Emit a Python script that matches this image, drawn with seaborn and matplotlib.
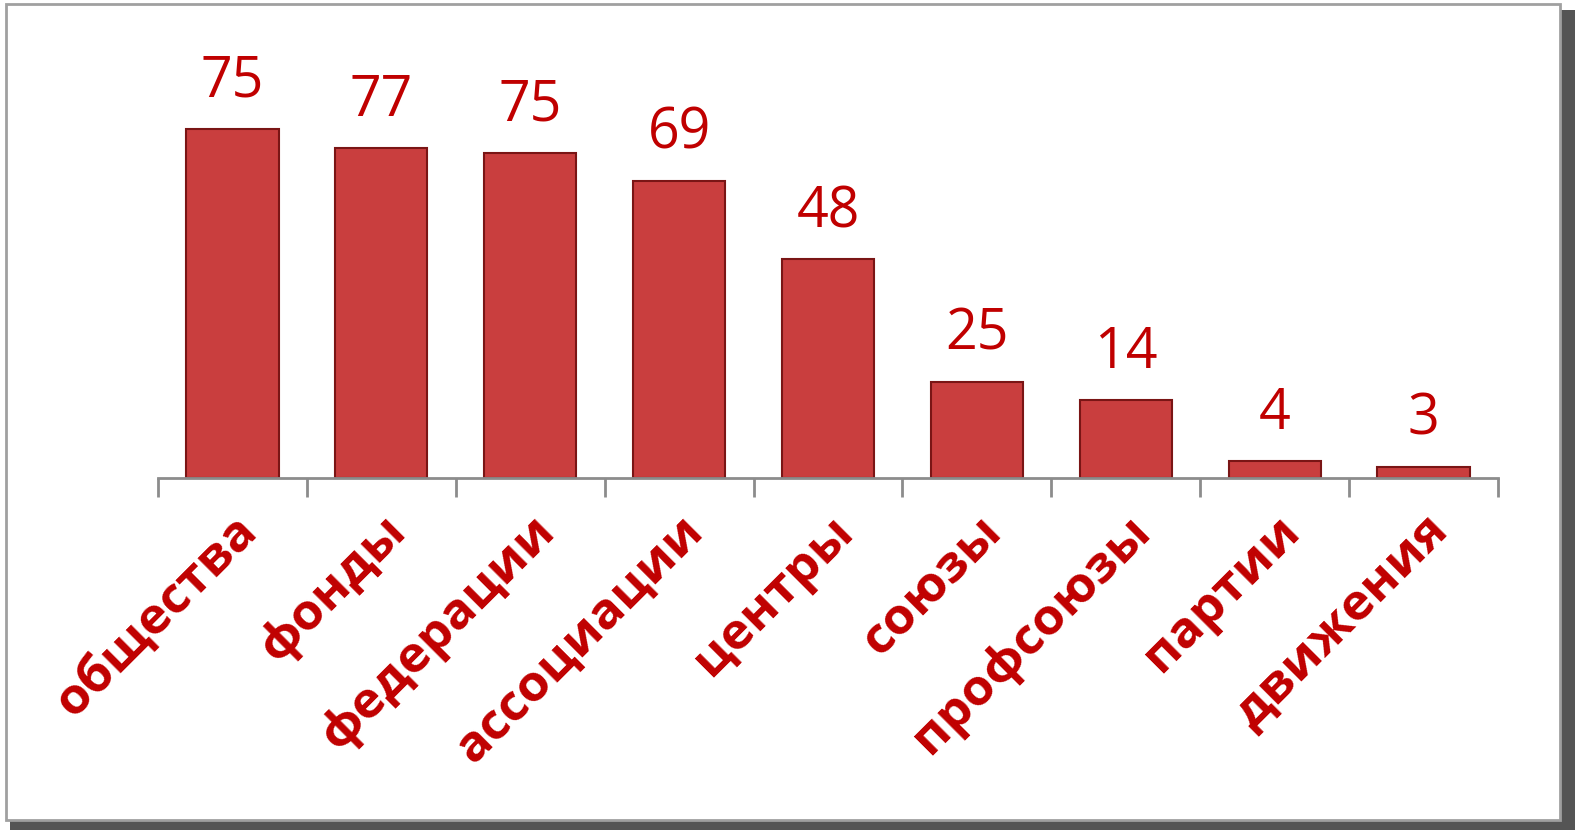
import numpy as np
import pandas as pd
import seaborn as sns
import matplotlib.pyplot as plt
from matplotlib.patches import Rectangle

categories = ['общества', 'фонды', 'федерации', 'ассоциации', 'центры',
              'союзы', 'профсоюзы', 'партии', 'движения']
# подписи над столбцами (как на исходном слайде)
labels = [75, 77, 75, 69, 48, 25, 14, 4, 3]
# высоты столбцов (не совпадают с подписями)
heights = [75, 70.9, 69.8, 63.8, 46.9, 20.6, 16.7, 3.6, 2.4]

RED = '#C00000'


def draw_frame(fig):
    # тень и рамка вокруг слайда
    fig.patches.append(Rectangle((10 / 1580, 0), 1565 / 1580, 820 / 830,
                                 transform=fig.transFigure, facecolor='#555555',
                                 edgecolor='none', zorder=0))
    fig.patches.append(Rectangle((6 / 1580, 10 / 830), 1554 / 1580, 816 / 830,
                                 transform=fig.transFigure, facecolor='white',
                                 edgecolor='#A0A0A0', linewidth=2, zorder=1))


def main():
    data = pd.DataFrame({'category': categories, 'height': heights, 'label': labels})

    sns.set_style('white')
    plt.rcParams['font.family'] = ['Open Sans', 'DejaVu Sans']

    fig = plt.figure(figsize=(15.8, 8.3), dpi=100)
    draw_frame(fig)
    ax = fig.add_axes([158 / 1580, 352 / 830, 1340 / 1580, 438 / 830])
    ax.set_zorder(2)
    ax.patch.set_alpha(0)

    sns.barplot(data=data, x='category', y='height', color='#C93E3E',
                width=0.62, edgecolor='#7A1515', linewidth=1.5, saturation=1, ax=ax)

    for i, row in data.iterrows():
        ax.annotate(str(row['label']), (i, row['height']), xytext=(0, 13),
                    textcoords='offset points', ha='center', va='bottom',
                    fontsize=40, color=RED)

    ax.set_xlim(-0.5, len(categories) - 0.5)
    ax.set_ylim(0, 94)
    ax.set_xlabel('')
    ax.set_ylabel('')
    ax.set_yticks([])
    for side in ['left', 'top', 'right']:
        ax.spines[side].set_visible(False)
    ax.spines['bottom'].set_color('#8C8C8C')
    ax.spines['bottom'].set_linewidth(2)

    ax.set_xticks(np.arange(len(categories)))
    ax.set_xticklabels(categories, rotation=45, ha='right', va='top',
                       rotation_mode='anchor', fontsize=37, fontweight='bold', color=RED)
    ax.tick_params(axis='x', which='major', length=0, pad=20, bottom=True)
    ax.set_xticks(np.arange(len(categories) + 1) - 0.5, minor=True)
    ax.tick_params(axis='x', which='minor', length=14, width=2, color='#8C8C8C', bottom=True)

    fig.savefig('out.png', dpi=100)


if __name__ == '__main__':
    main()
